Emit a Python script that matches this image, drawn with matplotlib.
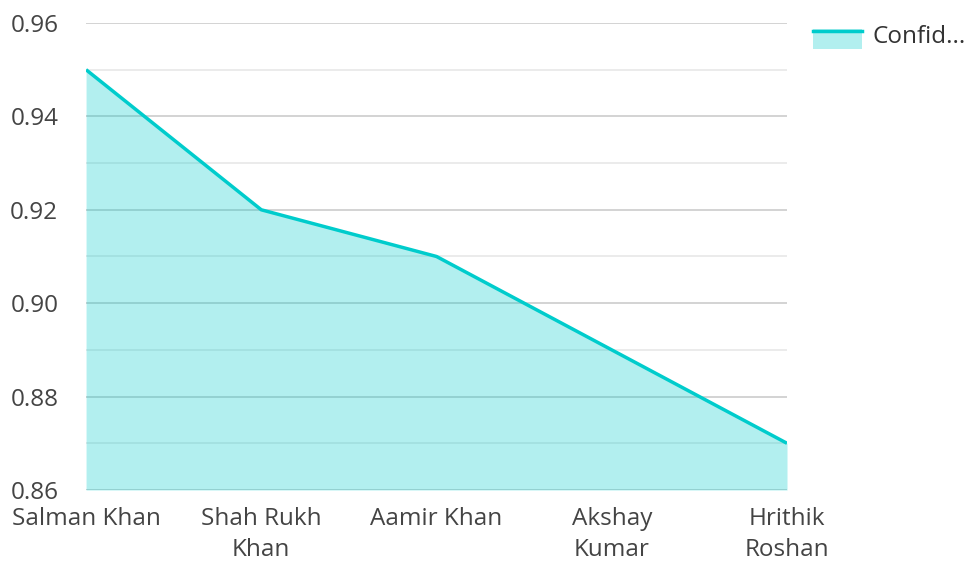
import matplotlib.pyplot as plt
from matplotlib.patches import Rectangle
from matplotlib.lines import Line2D

plt.rcParams['font.family'] = ['Open Sans', 'DejaVu Sans']

# data
actors = ["Salman Khan", "Shah Rukh\nKhan", "Aamir Khan", "Akshay\nKumar", "Hrithik\nRoshan"]
confidence = [0.95, 0.92, 0.91, 0.89, 0.87]
series_name = "Confid..."

line_color = "#00cccc"
fill_color = "#00cccc"


class AreaHandler:
    # legend swatch: light filled box with the line along its top
    def legend_artist(self, legend, orig_handle, fontsize, handlebox):
        x0, y0 = handlebox.xdescent, handlebox.ydescent
        w, h = handlebox.width, handlebox.height
        tr = handlebox.get_transform()
        rect = Rectangle((x0, y0 - 0.35 * h), w, 1.15 * h, facecolor=fill_color, alpha=0.3,
                         lw=0, transform=tr)
        line = Line2D([x0, x0 + w], [y0 + 0.7 * h, y0 + 0.7 * h], color=line_color,
                      lw=2.5, transform=tr)
        handlebox.add_artist(rect)
        handlebox.add_artist(line)
        return rect


fig = plt.figure(figsize=(9.69, 5.62), dpi=100)
ax = fig.add_axes([0.0888, 0.1281, 0.7234, 0.831])

x = list(range(len(actors)))
ax.fill_between(x, 0.86, confidence, color=fill_color, alpha=0.3, lw=0, zorder=3)
ax.plot(x, confidence, color=line_color, lw=2.5, zorder=4, solid_capstyle="butt")

ax.set_xlim(0, len(actors) - 1)
ax.set_ylim(0.86, 0.96)
ax.set_yticks([0.86, 0.88, 0.90, 0.92, 0.94, 0.96])
ax.set_yticklabels(["0.86", "0.88", "0.90", "0.92", "0.94", "0.96"])
ax.set_yticks([0.87, 0.89, 0.91, 0.93, 0.95], minor=True)
ax.set_xticks(x)
ax.set_xticklabels(actors, linespacing=1.42)

ax.grid(axis="y", which="major", color="#cccccc", lw=1.2, zorder=1)
ax.grid(axis="y", which="minor", color="#e8e8e8", lw=1.2, zorder=1)
ax.grid(axis="x", visible=False)
ax.set_axisbelow(True)

for s in ax.spines.values():
    s.set_visible(False)
ax.tick_params(axis="both", which="both", length=0, labelsize=17.5, labelcolor="#444444")
ax.tick_params(axis="y", pad=20)
ax.tick_params(axis="x", pad=12)

fig.legend([object()], [series_name], loc="upper left", bbox_to_anchor=(0.8186, 0.99),
           frameon=False, fontsize=17.5, handlelength=2.05, handletextpad=0.4,
           borderpad=0.3, handler_map={object: AreaHandler()}, labelcolor="#333333")

fig.savefig("out.png", dpi=100)
